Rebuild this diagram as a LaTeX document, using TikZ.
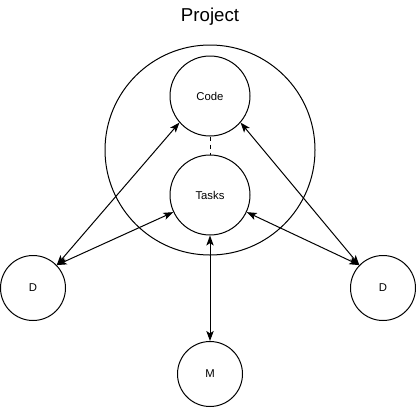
\documentclass[tikz,border=0pt]{standalone}
\usepackage{fontspec}
\setmainfont{Liberation Sans}
\usetikzlibrary{arrows.meta}

\begin{document}
\begin{tikzpicture}[x=0.75pt, y=-0.75pt, >={Stealth[length=7.5pt,width=5.5pt,inset=1.8pt]},
  font=\fontsize{8.5}{10}\selectfont,
  member/.style={draw, circle, line width=0.75pt, minimum size=48.75pt, inner sep=0pt},
  task/.style={draw, circle, line width=0.75pt, minimum size=60pt, inner sep=0pt},
  link/.style={<->, line width=0.75pt}]
  \useasboundingbox (0,0) rectangle (416,407);
  \node[font=\fontsize{14}{16}\selectfont] (title) at (210,17) {Project};
  \node[draw, circle, line width=0.75pt, minimum size=157.5pt, inner sep=0pt] (project) at (210,150) {};
  \node[task] (code) at (210,96) {Code};
  \node[task] (tasks) at (210,195) {Tasks};
  \node[member] (dleft) at (33,288) {D};
  \node[member] (dright) at (383,288) {D};
  \node[member] (man) at (210,374) {M};
  \draw[dashed, line width=0.75pt] (code) -- (tasks);
  \draw[link] (dleft.44) -- (code.221);
  \draw[link] (dleft.44) -- (tasks.205);
  \draw[link] (dright.136) -- (code.319);
  \draw[link] (dright.136) -- (tasks.335);
  \draw[link] (man) -- (tasks);
\end{tikzpicture}
\end{document}
